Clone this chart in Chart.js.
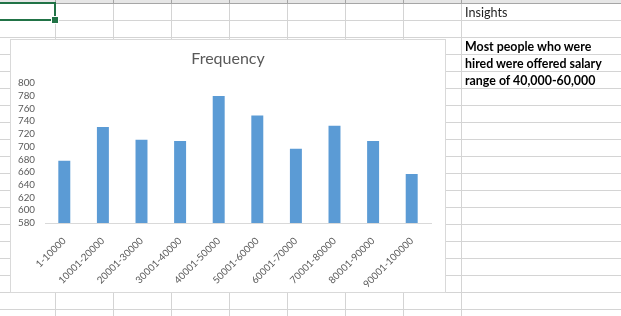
<!DOCTYPE html>
<html>
<head>
<meta charset="utf-8">
<script src="https://cdn.jsdelivr.net/npm/chart.js@4"></script>
<style>
  html, body { margin: 0; padding: 0; background: #fff; }
  body { width: 621px; height: 316px; position: relative; overflow: hidden; font-family: Lato, "Liberation Sans", sans-serif; }
  #sheet { position: absolute; left: 0; top: 0; }
  #chartBox { position: absolute; left: 10px; top: 39px; width: 434px; height: 252px; border: 1px solid #d9d9d9; background: #fff; }
  .cell { position: absolute; left: 465px; font-size: 12.6px; color: #1f1f1f; white-space: nowrap; }
  .bold { font-weight: bold; color: #000; font-size: 12.4px; }
</style>
</head>
<body>
<canvas id="sheet" width="621" height="316"></canvas>
<div id="chartBox"><canvas id="chart"></canvas></div>
<div class="cell" style="top:5px">Insights</div>
<div class="cell bold" style="top:39px">Most people who were</div>
<div class="cell bold" style="top:56px">hired were offered salary</div>
<div class="cell bold" style="top:73px">range of 40,000-60,000</div>

<script>
// DATOS DEL GRAFICO
const categorias = ["1-10000", "10001-20000", "20001-30000", "30001-40000", "40001-50000",
    "50001-60000", "60001-70000", "70001-80000", "80001-90000", "90001-100000"]
const frecuencia = [678, 731, 711, 709, 780, 749, 697, 733, 709, 657]
const yMin = 580
const yMax = 800
const yPaso = 20

// CUADRICULA DE LA HOJA
function dibujarHoja() {
    const ctx = document.getElementById("sheet").getContext("2d")
    // barra de encabezado
    ctx.fillStyle = "#e6e6e6"
    ctx.fillRect(0, 0, 621, 3)
    ctx.fillStyle = "#a6a6a6"
    ctx.fillRect(0, 3, 621, 1)

    ctx.fillStyle = "#d4d4d4"
    for (let y = 20; y < 316; y += 17) {
        ctx.fillRect(0, y, 621, 1)
    }
    for (let x = 55; x <= 461; x += 58) {
        ctx.fillRect(x, 4, 1, 312)
    }
    ctx.fillStyle = "#a6a6a6"
    for (let x = 55; x <= 461; x += 58) {
        ctx.fillRect(x, 0, 1, 4)
    }

    // celda seleccionada
    ctx.fillStyle = "#217346"
    ctx.fillRect(0, 2, 56, 2)
    ctx.fillRect(54, 2, 2, 15)
    ctx.fillRect(0, 19, 51, 2)
    ctx.fillStyle = "#fff"
    ctx.fillRect(51, 16, 8, 8)
    ctx.fillStyle = "#217346"
    ctx.fillRect(52, 17, 6, 6)
}

function configGrafica() {
    const config = {
        type: 'bar',
        data: {
            labels: categorias,
            datasets: [{
                label: "Frequency",
                backgroundColor: "#5b9bd5",
                data: frecuencia,
                barPercentage: 0.31,
                categoryPercentage: 1
            }]
        },
        options: {
            responsive: true,
            maintainAspectRatio: false,
            animation: false,
            layout: { padding: 0 },
            plugins: {
                legend: { display: false },
                tooltip: { enabled: false },
                title: {
                    display: true,
                    text: "Frequency",
                    color: "#595959",
                    font: { family: "Lato", size: 16, weight: "normal" },
                    padding: { top: 9, bottom: 15 }
                }
            },
            scales: {
                x: {
                    grid: { display: false },
                    border: { display: true, color: "#d9d9d9", width: 1 },
                    ticks: {
                        color: "#595959",
                        font: { family: "Lato", size: 9.8 },
                        maxRotation: 45,
                        minRotation: 45,
                        autoSkip: false,
                        padding: 4
                    },
                    // margen derecho sin mover el titulo
                    afterFit: (scale) => {
                        scale.height = 69
                        scale.paddingRight = 14
                    }
                },
                y: {
                    min: yMin,
                    max: yMax,
                    grid: { display: false, drawTicks: false },
                    border: { display: false },
                    ticks: {
                        stepSize: yPaso,
                        autoSkip: false,
                        color: "#595959",
                        font: { family: "Lato", size: 9.8 },
                        padding: 10
                    },
                    afterFit: (scale) => { scale.width = 34 }
                }
            }
        }
    }
    return config
}

dibujarHoja()
const chartInstance = new Chart(document.getElementById("chart"), configGrafica())
</script>
</body>
</html>
